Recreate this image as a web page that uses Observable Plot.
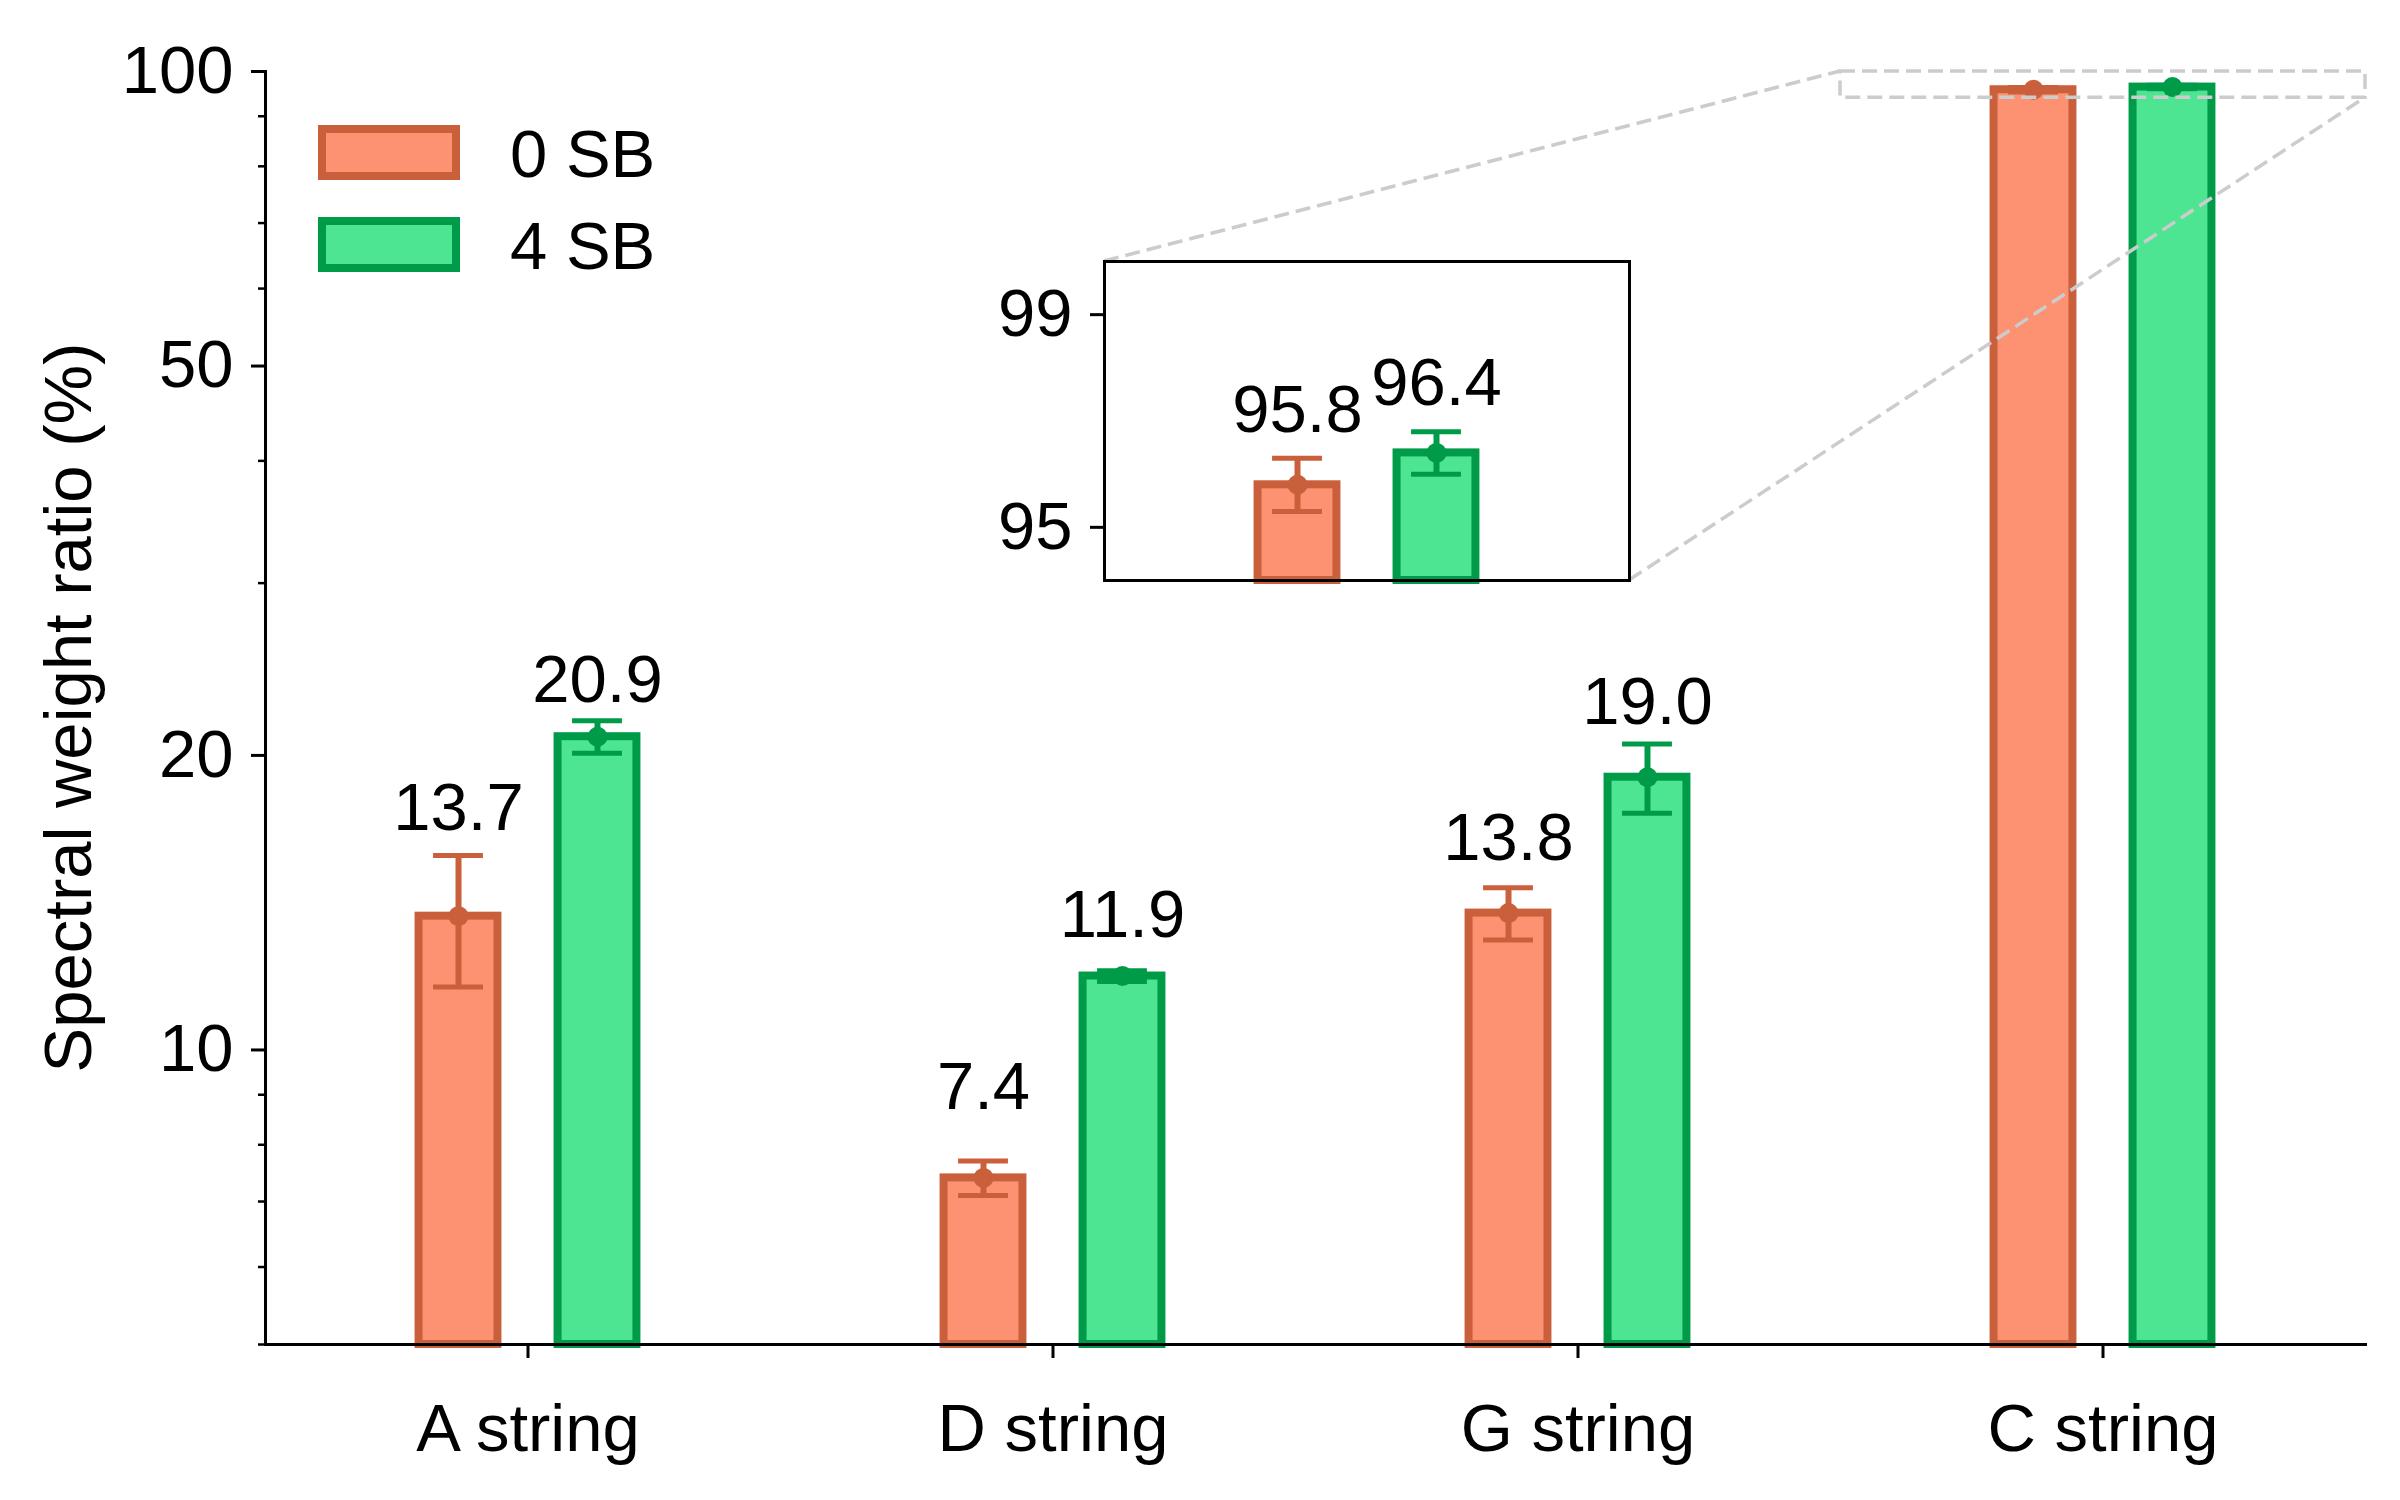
<!DOCTYPE html>
<html>
<head>
<meta charset="utf-8">
<script src="https://cdn.jsdelivr.net/npm/d3@7"></script>
<script src="https://cdn.jsdelivr.net/npm/@observablehq/plot@0.6"></script>
<style>
  html, body { margin: 0; padding: 0; background: #fff; overflow: hidden; }
  #wrap { position: relative; width: 2400px; height: 1500px; font-family: "Liberation Sans", Arial, sans-serif; }
  #wrap > * { position: absolute; }
</style>
</head>
<body>
<div id="wrap"></div>
<script>
// ---------------- data ----------------
const strings = ["A string", "D string", "G string", "C string"];
const series = ["0 SB", "4 SB"];
const values0 = [13.7, 7.4, 13.8, 95.8];
const values4 = [20.9, 11.9, 19.0, 96.4];
const errors0 = [2.1, 0.3, 0.85, 0.5];
const errors4 = [0.8, 0.15, 1.55, 0.4];
const yDomain = [5, 100];
const yTicks = [10, 20, 50, 100];
const yMinorTicks = [5, 6, 7, 8, 9, 30, 40, 60, 70, 80, 90];
const zoomCategory = "C string";
const insetDomain = [94, 100];
const insetTicks = [95, 99];
const fillColors = ["#fc9272", "#4ee592"];
const edgeColors = ["#c9603b", "#009b48"];
const yLabel = "Spectral weight ratio (%)";

// ---------------- layout / style ----------------
const FONT = '"Liberation Sans", Arial, Helvetica, sans-serif';
const FS = 67;
const W = 2400, H = 1500;
const ML = 263, MR = 34, MT = 71, MB = 156;
const PAD_INNER = 0.4325, PAD_OUTER = 1.105;
const EDGE_W = 8, ERR_W = 6, CAP_W = 5, CAP_INSET = 14.5, DOT_R = 10;
const LABEL_GAP_MAIN = 1.0, LABEL_GAP_INSET = 0.5;
const IN_L = 1104, IN_T = 261, IN_H = 319;
const INM = {l: 150, r: 6, t: 6, b: 6};
const GRAY = "#cccccc", DASH = "15,7", DASH_W = 3.5;

const rows = [];
strings.forEach((s, i) => {
  series.forEach((k, j) => {
    const v = j === 0 ? values0[i] : values4[i];
    const e = j === 0 ? errors0[i] : errors4[i];
    rows.push({string: s, series: k, value: v, lo: v - e, hi: v + e});
  });
});
const mainLabelRows = rows.filter(d => d.string !== zoomCategory);
const insetRows = rows.filter(d => d.string === zoomCategory);

function seriesMarks(data, base, facet) {
  const fxOpt = facet ? {fx: "string"} : {};
  const out = {bars: [], errs: []};
  series.forEach((s, j) => {
    const d = data.filter(r => r.series === s);
    out.bars.push(Plot.barY(d, {...fxOpt, x: "series", y1: () => base, y2: "value",
      fill: fillColors[j], stroke: edgeColors[j], strokeWidth: EDGE_W}));
    out.errs.push(
      Plot.ruleX(d, {...fxOpt, x: "series", y1: "lo", y2: "hi", stroke: edgeColors[j], strokeWidth: ERR_W}),
      Plot.tickY(d, {...fxOpt, x: "series", y: "lo", stroke: edgeColors[j], strokeWidth: CAP_W, insetLeft: CAP_INSET, insetRight: CAP_INSET}),
      Plot.tickY(d, {...fxOpt, x: "series", y: "hi", stroke: edgeColors[j], strokeWidth: CAP_W, insetLeft: CAP_INSET, insetRight: CAP_INSET}),
      Plot.dot(d, {...fxOpt, x: "series", y: "value", r: DOT_R, fill: edgeColors[j], stroke: "none"})
    );
  });
  return out;
}

const wrap = document.getElementById("wrap");
const mm = seriesMarks(rows, yDomain[0], true);

const main = Plot.plot({
  width: W, height: H,
  marginLeft: ML, marginRight: MR, marginTop: MT, marginBottom: MB,
  style: {fontFamily: FONT, fontSize: FS + "px", color: "#000", background: "transparent", overflow: "visible"},
  fx: {domain: strings, padding: 0, axis: null, label: null},
  x: {domain: series, paddingInner: PAD_INNER, paddingOuter: PAD_OUTER, axis: null, round: false},
  y: {type: "log", domain: yDomain, axis: null},
  marks: [
    ...mm.bars,
    ...mm.errs,
    Plot.text(mainLabelRows, {fx: "string", x: "series", y: d => d.hi + LABEL_GAP_MAIN,
      text: d => d.value.toFixed(1), lineAnchor: "bottom", fontSize: FS, fill: "#000"}),
    Plot.rect([zoomCategory], {fx: d => d, y1: () => insetDomain[0], y2: () => insetDomain[1],
      fill: "none", stroke: GRAY, strokeWidth: DASH_W, strokeDasharray: DASH}),
    Plot.frame({anchor: "bottom", stroke: "#000", strokeWidth: 3}),
    Plot.frame({anchor: "left", facetAnchor: "left", stroke: "#000", strokeWidth: 3}),
    Plot.axisY({ticks: yMinorTicks, tickSize: 7, strokeWidth: 2.5, tickFormat: () => "", label: null}),
    Plot.axisY({ticks: yTicks, tickSize: 14, tickPadding: 18, strokeWidth: 3, tickFormat: d => String(d), label: null, fontSize: FS}),
    Plot.axisFx({anchor: "bottom", tickSize: 14, tickPadding: 45, strokeWidth: 3, label: null, fontSize: FS})
  ]
});
main.style.left = "0px"; main.style.top = "0px";
wrap.appendChild(main);

const fxS = main.scale("fx");
const yS = main.scale("y");
const bandW = fxS.bandwidth;
const cx0 = fxS.apply(zoomCategory);

// ---------------- overlay: connectors, legend, y label ----------------
const svg = d3.create("svg").attr("width", W).attr("height", H)
  .style("left", "0px").style("top", "0px").style("font-family", FONT);
svg.append("line")
  .attr("x1", IN_L).attr("y1", IN_T).attr("x2", cx0).attr("y2", yS.apply(insetDomain[1]))
  .attr("stroke", GRAY).attr("stroke-width", DASH_W).attr("stroke-dasharray", DASH);
svg.append("line")
  .attr("x1", IN_L + bandW).attr("y1", IN_T + IN_H).attr("x2", cx0 + bandW).attr("y2", yS.apply(insetDomain[0]))
  .attr("stroke", GRAY).attr("stroke-width", DASH_W).attr("stroke-dasharray", DASH);

const LEG_X = 318, LEG_Y = 125, SW_W = 142, SW_H = 55, ROW = 92, TXT_X = 510;
series.forEach((s, j) => {
  svg.append("rect")
    .attr("x", LEG_X + EDGE_W / 2).attr("y", LEG_Y + j * ROW + EDGE_W / 2)
    .attr("width", SW_W - EDGE_W).attr("height", SW_H - EDGE_W)
    .attr("fill", fillColors[j]).attr("stroke", edgeColors[j]).attr("stroke-width", EDGE_W);
  svg.append("text")
    .attr("x", TXT_X).attr("y", LEG_Y + 52 + j * ROW)
    .attr("font-size", FS).attr("fill", "#000").text(s);
});
const yMid = (yS.apply(yDomain[0]) + yS.apply(yDomain[1])) / 2;
svg.append("text")
  .attr("transform", `translate(67,${yMid}) rotate(-90)`)
  .attr("text-anchor", "middle").attr("dominant-baseline", "central")
  .attr("font-size", FS).attr("fill", "#000").text(yLabel);
wrap.appendChild(svg.node());

// ---------------- inset ----------------
const im = seriesMarks(insetRows, insetDomain[0], false);
const inset = Plot.plot({
  width: INM.l + bandW + INM.r, height: INM.t + IN_H + INM.b,
  marginLeft: INM.l, marginRight: INM.r, marginTop: INM.t, marginBottom: INM.b,
  style: {fontFamily: FONT, fontSize: FS + "px", color: "#000", background: "transparent", overflow: "visible"},
  x: {domain: series, paddingInner: PAD_INNER, paddingOuter: PAD_OUTER, axis: null, round: false},
  y: {domain: insetDomain, axis: null},
  marks: [
    Plot.frame({fill: "white", stroke: "none"}),
    ...im.bars,
    ...im.errs,
    Plot.text(insetRows, {x: "series", y: d => d.hi + LABEL_GAP_INSET,
      text: d => d.value.toFixed(1), lineAnchor: "bottom", fontSize: FS, fill: "#000"}),
    Plot.axisY({ticks: insetTicks, tickSize: 14, tickPadding: 18, strokeWidth: 3, tickFormat: d => String(d), label: null, fontSize: FS}),
    Plot.frame({stroke: "#000", strokeWidth: 3, fill: "none"})
  ]
});
inset.style.left = (IN_L - INM.l) + "px";
inset.style.top = (IN_T - INM.t) + "px";
wrap.appendChild(inset);
</script>
</body>
</html>
